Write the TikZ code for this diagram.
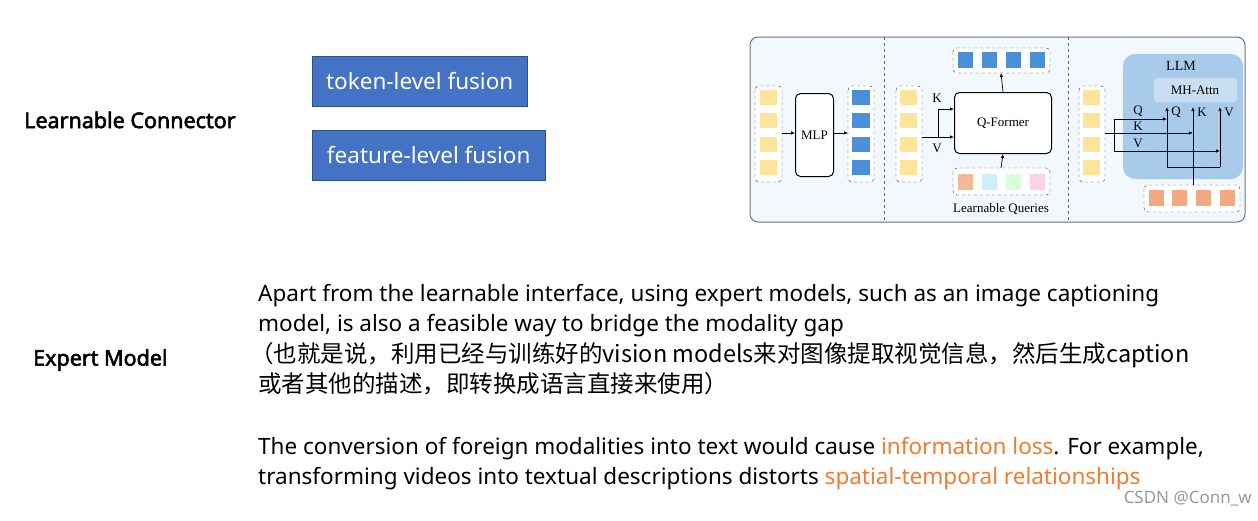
\documentclass[tikz,border=0pt]{standalone}
\usepackage{fontspec}
\setmainfont{Noto Sans}
\newfontfamily\cjk{Noto Sans CJK SC}
\newfontfamily\bfn[FakeBold=2.5]{Noto Sans}
\newfontfamily\tms{Liberation Serif}
\usetikzlibrary{arrows.meta}
\definecolor{bluebox}{HTML}{4472C4}
\definecolor{orng}{HTML}{ED7D31}
\definecolor{yel}{HTML}{FCE49A}
\definecolor{tokb}{HTML}{4A8FD8}
\definecolor{sal}{HTML}{F2A880}
\definecolor{llm}{HTML}{A8CBEC}
\definecolor{mh}{HTML}{C8DEF3}
\definecolor{panel}{HTML}{F2F8FD}
\begin{document}
\begin{tikzpicture}[x=1pt,y=-1pt,
  txt/.style={anchor=west,inner sep=0,font=\fontsize{22.5}{26}\selectfont},
  fusion/.style={fill=bluebox,draw=bluebox!70!black,text=white,font=\fontsize{22.5}{26}\selectfont,anchor=north west,inner sep=0},
  lbl/.style={font=\bfn\fontsize{21.5}{26}\selectfont,anchor=west,inner sep=0},
  dbox/.style={draw=black!80,dashed,rounded corners=4pt,fill=white},
  rbox/.style={draw=black,line width=1pt,rounded corners=5pt,fill=white},
  sm/.style={font=\tms\fontsize{13}{13}\selectfont,inner sep=0},
  arr/.style={-{Latex[length=4pt,width=3.5pt]},line width=0.7pt}]
\useasboundingbox (0,0) rectangle (1258,520);
\fill[white] (0,0) rectangle (1258,520);
% left
\node[lbl] (lc) at (24,120) {Learnable Connector};
\node[lbl] (em) at (33,360) {Expert Model};
\node[fusion,minimum width=215,minimum height=50] (tf) at (312,56) {token-level fusion};
\node[fusion,minimum width=233,minimum height=50] (ff) at (312,130) {feature-level fusion};
% text
\node[txt] (t1) at (258,296) {Apart from the learnable interface, using expert models, such as an image captioning};
\node[txt] (t2) at (258,326) {model, is also a feasible way to bridge the modality gap};
\node[txt,font=\cjk\fontsize{23.5}{26}\selectfont] (t3) at (250,355) {（也就是说，利用已经与训练好的vision models来对图像提取视觉信息，然后生成caption};
\node[txt,font=\cjk\fontsize{23.5}{26}\selectfont] (t4) at (258,384) {或者其他的描述，即转换成语言直接来使用）};
\node[txt] (t5) at (258,449) {The conversion of foreign modalities into text would cause \textcolor{orng}{information loss}. For example,};
\node[txt] (t6) at (258,479) {transforming videos into textual descriptions distorts \textcolor{orng}{spatial-temporal relationships}};
\node[anchor=east,inner sep=0,text=black!40,font=\fontsize{17}{20}\selectfont] (wm) at (1252,499) {CSDN @Conn\_w};
% diagram
\draw[black!55,line width=1pt,rounded corners=8pt,fill=panel] (750,37) rectangle (1245,222);
\draw[black!60,dashed] (884,37) -- (884,222);
\draw[black!60,dashed] (1068,37) -- (1068,222);
% panel 1
\draw[dbox] (755,86) rectangle (782,182);
\foreach \y in {90,113,137,160} \fill[yel] (760,\y) rectangle (777,\y+15);
\node[rbox,minimum width=38,minimum height=83,anchor=north west,font=\tms\fontsize{13}{13}\selectfont] (mlp) at (795,93) {MLP};
\draw[dbox] (848,86) rectangle (874,182);
\foreach \y in {90,113,137,160} \fill[tokb] (852,\y) rectangle (870,\y+15);
\coordinate (c1) at (782,133); \coordinate (c2) at (848,133);
\draw[arr] (c1) -- (c1-|mlp.west);
\draw[arr] (c2-|mlp.east) -- (c2);
% panel 2
\draw[dbox] (896,86) rectangle (922,182);
\foreach \y in {90,113,137,160} \fill[yel] (900,\y) rectangle (917,\y+15);
\node[rbox,minimum width=97,minimum height=61,anchor=north west,font=\tms\fontsize{13}{13}\selectfont] (qf) at (954,92) {Q-Former};
\draw[dbox] (953,48) rectangle (1050,73);
\foreach \x in {958,982,1006,1030} \fill[tokb] (\x,52) rectangle (\x+15,68);
\draw[dbox] (953,168) rectangle (1050,195);
\fill[sal!80] (958,174) rectangle (973,190);
\fill[cyan!20] (982,174) rectangle (997,190);
\fill[green!15] (1006,174) rectangle (1021,190);
\fill[magenta!18] (1030,174) rectangle (1045,190);
\node[sm] (lq) at (1001,209) {Learnable Queries};
\coordinate (kv) at (922,137); \coordinate (kb) at (938,137);
\draw[arr] (kv) -- (kv-|qf.west);
\draw[arr] (kb) |- (qf.west|-0,109);
\node[sm] (kl) at (937,98) {K};
\node[sm] (vl) at (937,148) {V};
\draw[arr] (qf.north) -- (1001,73);
\draw[arr] (1001,168) -- (qf.south);
% panel 3
\draw[dbox] (1079,86) rectangle (1105,182);
\foreach \y in {90,113,137,160} \fill[yel] (1083,\y) rectangle (1100,\y+15);
\fill[llm,rounded corners=12pt] (1123,54) rectangle (1243,179);
\node[sm,font=\tms\fontsize{14}{14}\selectfont] (llmt) at (1181,66) {LLM};
\fill[mh,rounded corners=3pt] (1154,78) rectangle (1237,102);
\node[sm] (mht) at (1195,90) {MH-Attn};
\draw[dbox] (1144,185) rectangle (1240,212);
\foreach \x in {1149,1172,1196,1220} \fill[sal] (\x,190) rectangle (\x+15,206);
\coordinate (o) at (1105,133);
\draw[line width=0.7pt] (o) -- (1114,133);
\draw[line width=0.7pt] (1114,119) -- (1114,151);
\draw[arr] (1114,119) -- (1167,119);
\draw[arr] (1114,133) -- (1193,133);
\draw[arr] (1114,151) -- (1220,151);
\draw[line width=0.7pt] (1167,167) -- (1220,167);
\draw[arr] (1167,167) -- (1167,107);
\draw[arr] (1193,185) -- (1193,107);
\draw[arr] (1220,167) -- (1220,107);
\node[sm] (q1) at (1138,111) {Q};
\node[sm] (k1) at (1138,126) {K};
\node[sm] (v1) at (1138,143) {V};
\node[sm] (q2) at (1176,112) {Q};
\node[sm] (k2) at (1202,112) {K};
\node[sm] (v2) at (1229,112) {V};
\end{tikzpicture}
\end{document}
